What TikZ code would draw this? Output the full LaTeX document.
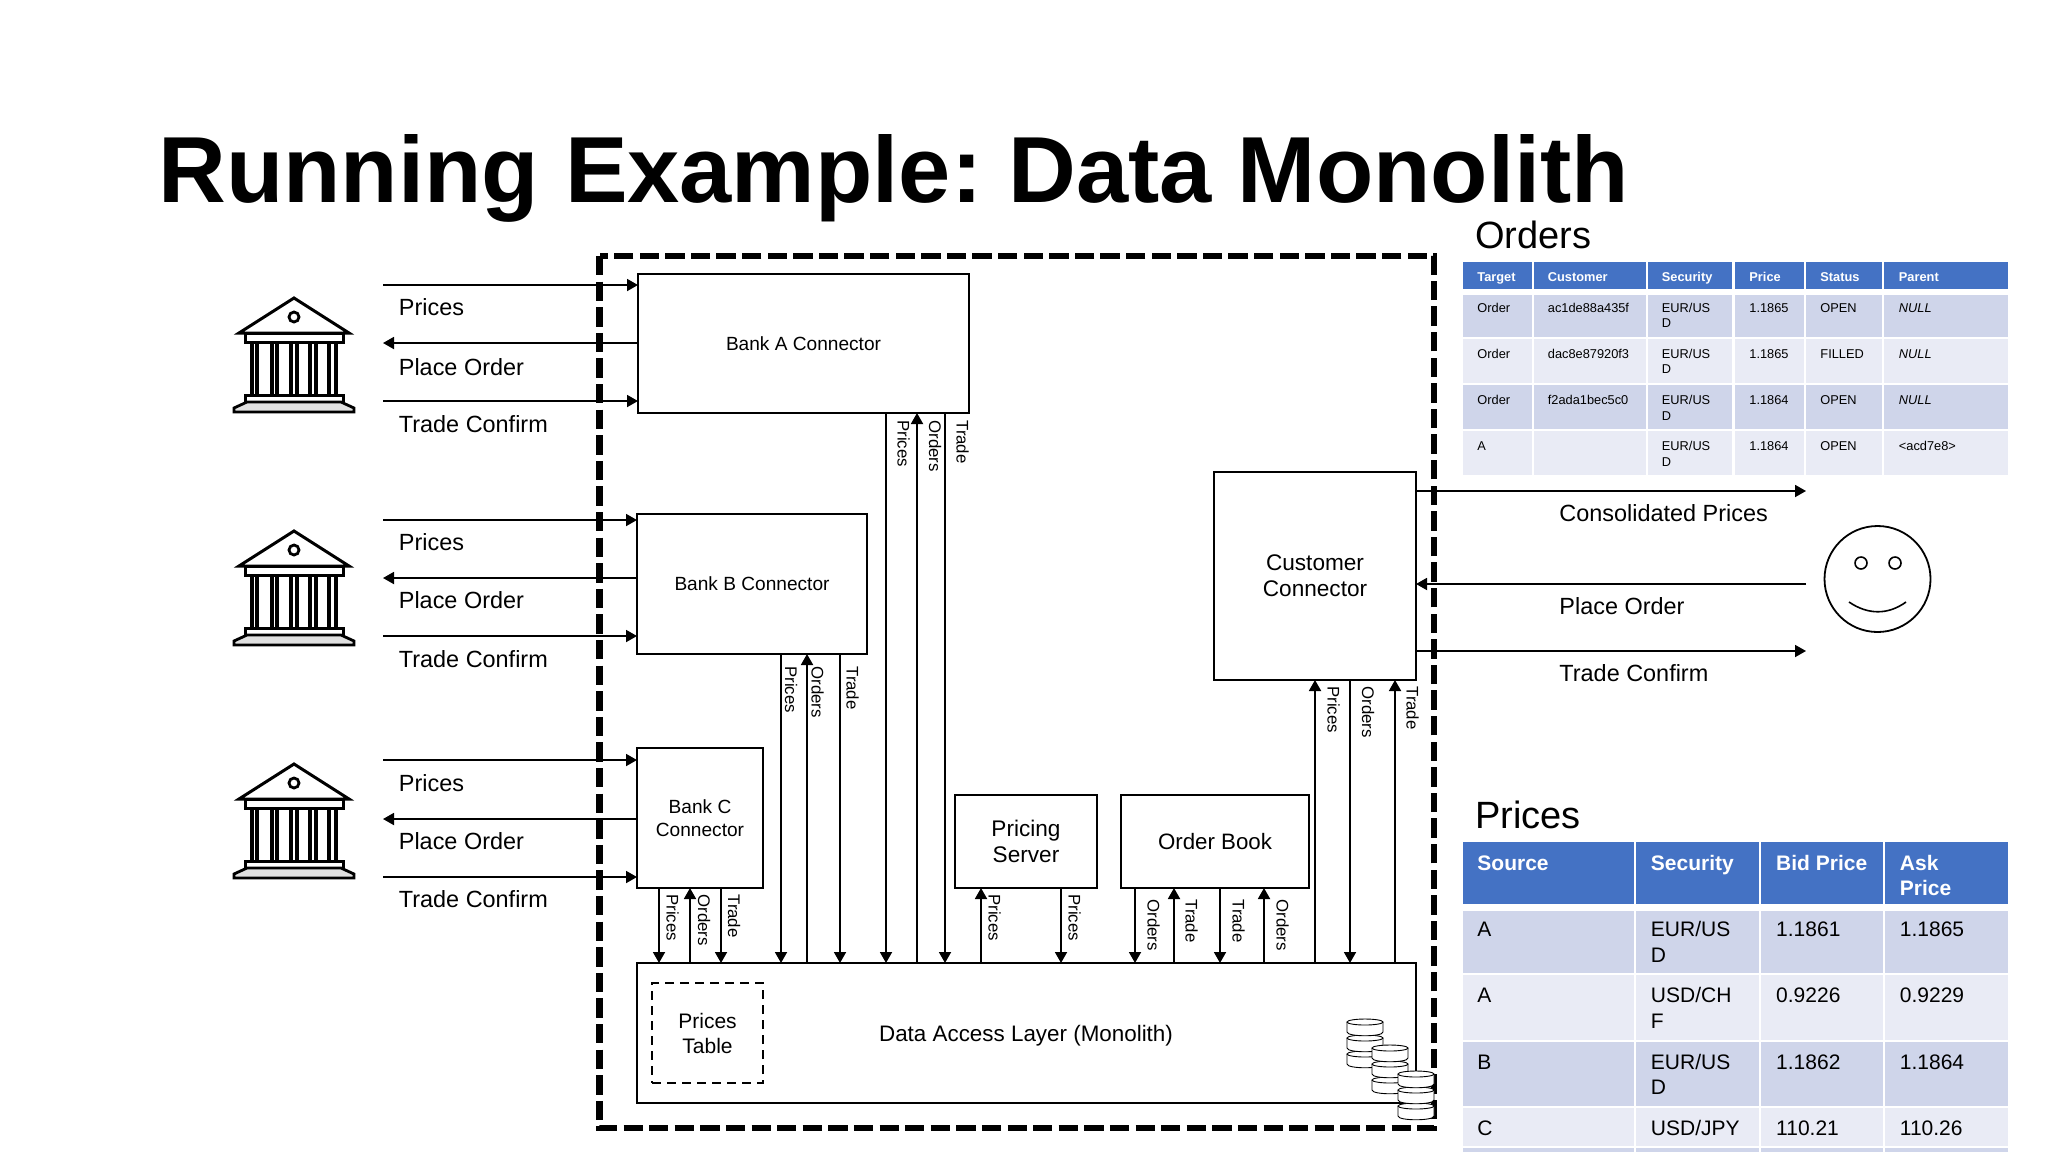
\documentclass[tikz,border=0pt]{standalone}
\usepackage{fontspec}
\setmainfont{Liberation Sans}
\usetikzlibrary{arrows.meta,calc}
\definecolor{hdr}{HTML}{4472C4}
\definecolor{rowd}{HTML}{CFD5EA}
\definecolor{rowl}{HTML}{E9EBF5}
\newcounter{tn}
\frenchspacing
\newcommand\fs[1]{\fontsize{#1}{#1}\selectfont}
\newcommand\tcell[5]{\fill[#5] (#1,#2) rectangle (#3,#4);}
\newcommand\tx[5][black]{\stepcounter{tn}\node[anchor=base west,inner sep=0pt,text=#1,font=#4] (txt\arabic{tn}) at (#2,#3) {#5};}
\newcommand\lbl[4]{\stepcounter{tn}\node[anchor=base west,inner sep=0pt,font=\fs{#4},rotate=-90] (txt\arabic{tn}) at (#1,#2) {#3};}
\newcommand\vconn[4]{\coordinate (vx) at (#1,0); \draw[#4] (#2 -| vx) -- (#3 -| vx);}
\newcommand\dbcyl[2]{\begin{scope}[shift={(#1,#2)},line width=0.45pt]
 \foreach \d in {32,16,0}{
  \filldraw[fill=white] (-18,\d+3) -- (-18,\d+13) .. controls (-18,\d+18) and (18,\d+18) .. (18,\d+13) -- (18,\d+3);
  \filldraw[fill=white] (0,\d+3) ellipse [x radius=18,y radius=3];
 }
 \end{scope}}
\tikzset{
 x=0.5pt,y=-0.5pt,
 box/.style={draw=black,line width=0.9pt,fill=white,inner sep=0pt,outer sep=0pt,anchor=north west,align=center},
 con/.style={line width=0.9pt,draw=black},
 arr/.style={con,-{Triangle[length=5.5pt,width=6pt]}},
 side/.style={anchor=base west,inner sep=0pt,font=\fs{11.72}},
 bank/.pic={
  \draw[line width=1.5pt,line join=miter] (-55,35) -- (0,0) -- (55,35) -- cycle;
  \draw[line width=1.4pt] (0,19) circle [radius=5];
  \draw[line width=1.5pt] (-49,35) rectangle (49,44);
  \foreach \c in {-42,-37,-22,-17,-3,3,16,22,35,42}{\draw[line width=1.6pt] (\c,44) -- (\c,97);}
  \draw[line width=1.5pt] (-49,97) rectangle (49,104);
  \draw[line width=1.4pt,fill=black!12] (-47,104) -- (-60,110) -- (-60,114) -- (60,114) -- (60,110) -- (47,104) -- cycle;
 }
}
\begin{document}
\begin{tikzpicture}
\useasboundingbox (0,0) rectangle (2048,1152);
\fill[white] (0,0) rectangle (2048,1152);
% title
\node[anchor=base west,inner sep=0pt,font=\fs{46.93}\bfseries] (title) at (158,202) {Running Example: Data Monolith};
% boundary
\draw[line width=3.25pt,dash pattern=on 9.65pt off 3.15pt] (599.5,256) rectangle (1434,1128);
% boxes
\node[box,font=\fs{9.55},minimum width={(969-638)*0.5pt},minimum height={(413-274)*0.5pt}] (bankA) at (638,274) {Bank A Connector};
\node[box,font=\fs{9.55},minimum width={(867-637)*0.5pt},minimum height={(654-514)*0.5pt}] (bankB) at (637,514) {Bank B Connector};
\node[box,font=\fs{9.55},minimum width={(763-637)*0.5pt},minimum height={(888-748)*0.5pt}] (bankC) at (637,748) {Bank C\\[2.2pt]Connector};
\node[box,font=\fs{11.3},minimum width={(1097-955)*0.5pt},minimum height={(888-795)*0.5pt}] (pricing) at (955,795) {Pricing\\[1.5pt]Server};
\node[box,font=\fs{11.15},minimum width={(1309-1121)*0.5pt},minimum height={(888-795)*0.5pt}] (book) at (1121,795) {Order Book};
\node[box,font=\fs{11.3},minimum width={(1416-1214)*0.5pt},minimum height={(680-472)*0.5pt}] (cust) at (1214,472) {\raisebox{-1pt}{Customer}\\[1.5pt]\raisebox{-1pt}{Connector}};
\node[box,minimum width={(1416-637)*0.5pt},minimum height={(1103-963)*0.5pt}] (dal) at (637,963) {};
\node[anchor=base,inner sep=0pt,font=\fs{11.2}] (dalt) at (1026,1041.5) {Data Access Layer (Monolith)};
\node[box,font=\fs{10.5},dash pattern=on 4.5pt off 3pt,minimum width={(763-652)*0.5pt},minimum height={(1083-983)*0.5pt}] (ptable) at (652,983) {Prices\\[2pt]Table};
% vertical connectors
\vconn{659}{bankC.south}{dal.north}{arr}
\vconn{690}{dal.north}{bankC.south}{arr}
\vconn{721}{bankC.south}{dal.north}{arr}
\vconn{781}{bankB.south}{dal.north}{arr}
\vconn{807}{dal.north}{bankB.south}{arr}
\vconn{840}{bankB.south}{dal.north}{arr}
\vconn{886}{bankA.south}{dal.north}{arr}
\vconn{917}{dal.north}{bankA.south}{arr}
\vconn{945}{bankA.south}{dal.north}{arr}
\vconn{981}{dal.north}{pricing.south}{arr}
\vconn{1061}{pricing.south}{dal.north}{arr}
\vconn{1135}{book.south}{dal.north}{arr}
\vconn{1174}{dal.north}{book.south}{arr}
\vconn{1220}{book.south}{dal.north}{arr}
\vconn{1264}{dal.north}{book.south}{arr}
\vconn{1315}{dal.north}{cust.south}{arr}
\vconn{1350}{cust.south}{dal.north}{arr}
\vconn{1395}{dal.north}{cust.south}{arr}
% rotated labels
\lbl{666.5}{894}{Prices}{8.4}
\lbl{698}{894}{Orders}{8.4}
\lbl{728}{894}{Trade}{8.4}
\lbl{785}{666}{Prices}{8.4}
\lbl{811.5}{666}{Orders}{8.4}
\lbl{846.5}{666}{Trade}{8.4}
\lbl{897.5}{420}{Prices}{8.4}
\lbl{929}{420}{Orders}{8.4}
\lbl{956.5}{420}{Trade}{8.4}
\lbl{988.5}{894}{Prices}{8.4}
\lbl{1068.5}{894}{Prices}{8.4}
\lbl{1147.5}{899}{Orders}{8.4}
\lbl{1185.5}{899}{Trade}{8.4}
\lbl{1232.5}{899}{Trade}{8.4}
\lbl{1276.5}{899}{Orders}{8.4}
\lbl{1327.5}{686}{Prices}{8.4}
\lbl{1362}{686}{Orders}{8.4}
\lbl{1406.5}{686}{Trade}{8.4}
% banks
\pic (bank1) at (294,298) {bank};
\pic (bank2) at (294,531) {bank};
\pic (bank3) at (294,764) {bank};
% bank arrows
\coordinate (a1) at (383,285); \coordinate (a2) at (383,343); \coordinate (a3) at (383,401);
\coordinate (b1) at (383,520); \coordinate (b2) at (383,578); \coordinate (b3) at (383,636);
\coordinate (c1) at (383,760); \coordinate (c2) at (383,819); \coordinate (c3) at (383,877);
\draw[arr] (a1) -- (bankA.west |- a1);
\draw[arr] (bankA.west |- a2) -- (a2);
\draw[arr] (a3) -- (bankA.west |- a3);
\draw[arr] (b1) -- (bankB.west |- b1);
\draw[arr] (bankB.west |- b2) -- (b2);
\draw[arr] (b3) -- (bankB.west |- b3);
\draw[arr] (c1) -- (bankC.west |- c1);
\draw[arr] (bankC.west |- c2) -- (c2);
\draw[arr] (c3) -- (bankC.west |- c3);
\node[side] (la1) at (398.5,315) {Prices};
\node[side] (la2) at (398.5,375) {Place Order};
\node[side] (la3) at (398.5,432) {Trade Confirm};
\node[side] (lb1) at (398.5,550) {Prices};
\node[side] (lb2) at (398.5,608.5) {Place Order};
\node[side] (lb3) at (398.5,667) {Trade Confirm};
\node[side] (lc1) at (398.5,791) {Prices};
\node[side] (lc2) at (398.5,849.5) {Place Order};
\node[side] (lc3) at (398.5,907.5) {Trade Confirm};
% customer side
\coordinate (r1) at (1806,491); \coordinate (r2) at (1806,584); \coordinate (r3) at (1806,651);
\draw[arr] (cust.east |- r1) -- (r1);
\draw[arr] (r2) -- (cust.east |- r2);
\draw[arr] (cust.east |- r3) -- (r3);
\node[side] (lr1) at (1559,521) {Consolidated Prices};
\node[side] (lr2) at (1559,614) {Place Order};
\node[side] (lr3) at (1559,681.5) {Trade Confirm};
% face
\node[circle,draw,line width=0.9pt,minimum size=53pt,inner sep=0pt] (face) at (1877.5,579) {};
\node[circle,draw,line width=0.8pt,minimum size=6pt,inner sep=0pt] (eye1) at (1861,563) {};
\node[circle,draw,line width=0.8pt,minimum size=6pt,inner sep=0pt] (eye2) at (1895,563) {};
\draw[line width=0.8pt] (1849,602) .. controls (1868,615) and (1888,615) .. (1906,602);
% cylinders
\dbcyl{1365}{1019}
\dbcyl{1390}{1045}
\dbcyl{1416}{1071}
% Orders table
\tx{1475}{248}{\fs{19}}{Orders}
\tcell{1463}{262}{1532}{288.7}{hdr}\tcell{1533.5}{262}{1646}{288.7}{hdr}\tcell{1648}{262}{1732}{288.7}{hdr}\tcell{1734.5}{262}{1803.5}{288.7}{hdr}\tcell{1806}{262}{1881.5}{288.7}{hdr}\tcell{1884}{262}{2008}{288.7}{hdr}
\foreach \a/\b/\c in {295/336.7/rowd,339/383/rowl,385.3/429/rowd,431/475/rowl}{
 \tcell{1463}{\a}{1532}{\b}{\c}\tcell{1533.5}{\a}{1646}{\b}{\c}\tcell{1648}{\a}{1732}{\b}{\c}\tcell{1734.5}{\a}{1803.5}{\b}{\c}\tcell{1806}{\a}{1881.5}{\b}{\c}\tcell{1884}{\a}{2008}{\b}{\c}
}
\tx[white]{1477}{281.6}{\fs{6.4}\bfseries}{Target}
\tx[white]{1547.5}{281.6}{\fs{6.4}\bfseries}{Customer}
\tx[white]{1661.5}{281.6}{\fs{6.4}\bfseries}{Security}
\tx[white]{1749}{281.6}{\fs{6.4}\bfseries}{Price}
\tx[white]{1820}{281.6}{\fs{6.4}\bfseries}{Status}
\tx[white]{1898.5}{281.6}{\fs{6.4}\bfseries}{Parent}
\tx{1477}{312.3}{\fs{6.4}}{Order}
\tx{1547.5}{312.3}{\fs{6.4}}{ac1de88a435f}
\tx{1661.5}{312.3}{\fs{6.4}}{EUR/US}
\tx{1661.5}{327.9}{\fs{6.4}}{D}
\tx{1749}{312.3}{\fs{6.4}}{1.1865}
\tx{1820}{312.3}{\fs{6.4}}{OPEN}
\tx{1898.5}{312.3}{\fs{6.4}\itshape}{NULL}
\tx{1477}{358.3}{\fs{6.4}}{Order}
\tx{1547.5}{358.3}{\fs{6.4}}{dac8e87920f3}
\tx{1661.5}{358.3}{\fs{6.4}}{EUR/US}
\tx{1661.5}{373.9}{\fs{6.4}}{D}
\tx{1749}{358.3}{\fs{6.4}}{1.1865}
\tx{1820}{358.3}{\fs{6.4}}{FILLED}
\tx{1898.5}{358.3}{\fs{6.4}\itshape}{NULL}
\tx{1477}{404.6}{\fs{6.4}}{Order}
\tx{1547.5}{404.6}{\fs{6.4}}{f2ada1bec5c0}
\tx{1661.5}{404.6}{\fs{6.4}}{EUR/US}
\tx{1661.5}{420.2}{\fs{6.4}}{D}
\tx{1749}{404.6}{\fs{6.4}}{1.1864}
\tx{1820}{404.6}{\fs{6.4}}{OPEN}
\tx{1898.5}{404.6}{\fs{6.4}\itshape}{NULL}
\tx{1477}{450.6}{\fs{6.4}}{A}
\tx{1661.5}{450.6}{\fs{6.4}}{EUR/US}
\tx{1661.5}{466.2}{\fs{6.4}}{D}
\tx{1749}{450.6}{\fs{6.4}}{1.1864}
\tx{1820}{450.6}{\fs{6.4}}{OPEN}
\tx{1898.5}{450.6}{\fs{6.4}}{<acd7e8>}
% Prices table
\tx{1475}{828}{\fs{19}}{Prices}
\foreach \a/\b/\c in {842/904.3/hdr,910.7/972.7/rowd,975/1040/rowl,1042/1105.7/rowd,1107.7/1146/rowl,1148.3/1152/rowd}{
 \tcell{1463}{\a}{1634}{\b}{\c}\tcell{1636}{\a}{1759.4}{\b}{\c}\tcell{1761.3}{\a}{1882.6}{\b}{\c}\tcell{1885}{\a}{2008}{\b}{\c}
}
\tx[white]{1477}{870}{\fs{10.5}\bfseries}{Source}
\tx[white]{1650.5}{870}{\fs{10.5}\bfseries}{Security}
\tx[white]{1775.8}{870}{\fs{10.5}\bfseries}{Bid Price}
\tx[white]{1899.5}{870}{\fs{10.5}\bfseries}{Ask}
\tx[white]{1899.5}{895.3}{\fs{10.5}\bfseries}{Price}
\tx{1477}{936}{\fs{10.5}}{A}
\tx{1650.5}{936}{\fs{10.5}}{EUR/US}
\tx{1650.5}{962.2}{\fs{10.5}}{D}
\tx{1775.8}{936}{\fs{10.5}}{1.1861}
\tx{1899.5}{936}{\fs{10.5}}{1.1865}
\tx{1477}{1002.8}{\fs{10.5}}{A}
\tx{1650.5}{1002.8}{\fs{10.5}}{USD/CH}
\tx{1650.5}{1028.2}{\fs{10.5}}{F}
\tx{1775.8}{1002.8}{\fs{10.5}}{0.9226}
\tx{1899.5}{1002.8}{\fs{10.5}}{0.9229}
\tx{1477}{1069.2}{\fs{10.5}}{B}
\tx{1650.5}{1069.2}{\fs{10.5}}{EUR/US}
\tx{1650.5}{1094.8}{\fs{10.5}}{D}
\tx{1775.8}{1069.2}{\fs{10.5}}{1.1862}
\tx{1899.5}{1069.2}{\fs{10.5}}{1.1864}
\tx{1477}{1135.8}{\fs{10.5}}{C}
\tx{1650.5}{1135.8}{\fs{10.5}}{USD/JPY}
\tx{1775.8}{1135.8}{\fs{10.5}}{110.21}
\tx{1899.5}{1135.8}{\fs{10.5}}{110.26}
\end{tikzpicture}
\end{document}
